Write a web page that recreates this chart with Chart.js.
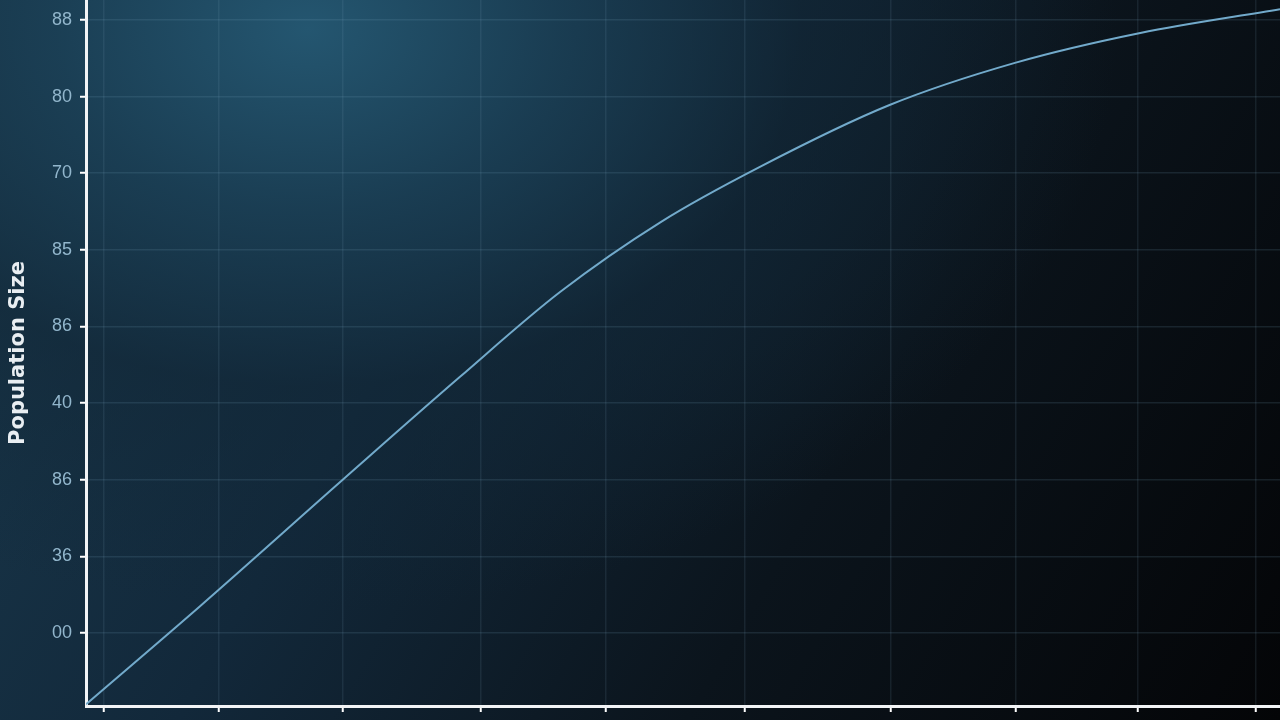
<!DOCTYPE html>
<html>
<head>
<meta charset="utf-8">
<script src="https://cdn.jsdelivr.net/npm/chart.js@4/dist/chart.umd.min.js"></script>
<style>
  html, body { margin: 0; padding: 0; width: 1280px; height: 720px; overflow: hidden; background: #05070a; }
  #wrap { position: relative; width: 1280px; height: 720px;
    background:
      radial-gradient(ellipse 900px 650px at 24% 4%, rgba(36,86,112,1) 0%, rgba(27,64,86,0.85) 28%, rgba(18,40,56,0.6) 55%, rgba(8,14,20,0) 90%),
      linear-gradient(120deg, #1a3a4e 0%, #12283a 35%, #0b141c 65%, #040507 100%);
  }
  canvas { display: block; }
</style>
</head>
<body>
<div id="wrap"><canvas id="c" width="1280" height="720"></canvas></div>
<script>
// ---- data ----
const xValues = [0, 9.55, 21.5, 31.3, 39.7, 48.1, 56.4, 67.3, 77.8, 88.3, 100];
const yValues = [0.7, 13.5, 30.0, 43.4, 54.5, 63.6, 70.8, 78.9, 84.4, 88.3, 91.4];
const xTickValues = [1.5, 11.1, 21.5, 33.1, 43.5, 55.2, 67.4, 77.9, 88.1, 98.0];
const yTickValues = [10, 20, 30, 40, 50, 60, 70, 80, 90];
const yTickLabels = ["00", "36", "86", "40", "86", "85", "70", "80", "88"];
const yTitle = "Population Size";

const points = xValues.map((x, i) => ({ x: x, y: yValues[i] }));

new Chart(document.getElementById('c'), {
  type: 'line',
  data: {
    datasets: [{
      data: points,
      borderColor: '#72aacb',
      borderWidth: 2,
      pointRadius: 0,
      fill: false,
      cubicInterpolationMode: 'monotone'
    }]
  },
  options: {
    responsive: false,
    animation: false,
    devicePixelRatio: 1,
    layout: { padding: { top: 0, right: 0, bottom: 8, left: 0 } },
    plugins: { legend: { display: false }, tooltip: { enabled: false } },
    scales: {
      x: {
        type: 'linear',
        min: 0, max: 100,
        afterBuildTicks: (s) => { s.ticks = xTickValues.map(v => ({ value: v })); },
        afterFit: (s) => { s.paddingLeft = 0; s.paddingRight = 0; },
        ticks: { display: false },
        grid: { color: 'rgba(120,160,185,0.13)', lineWidth: 1.5, tickColor: '#ffffff', tickLength: 6, tickWidth: 2 },
        border: { color: '#f2f4f6', width: 3 }
      },
      y: {
        type: 'linear',
        min: 0.47, max: 92.61,
        afterBuildTicks: (s) => { s.ticks = yTickValues.map(v => ({ value: v })); },
        afterFit: (s) => { s.width = 86; s.paddingTop = 0; s.paddingBottom = 0; },
        ticks: {
          color: '#92b6cc',
          font: { family: 'Liberation Sans', size: 18 },
          padding: 8,
          callback: (v) => { const i = yTickValues.indexOf(v); return i >= 0 ? yTickLabels[i] : ''; }
        },
        grid: { color: 'rgba(120,160,185,0.16)', lineWidth: 1.5, tickColor: '#ffffff', tickLength: 6, tickWidth: 2 },
        border: { color: '#f2f4f6', width: 3 },
        title: {
          display: true,
          text: yTitle,
          color: '#e9eef2',
          font: { family: 'DejaVu Sans', size: 21, weight: 'bold' },
          padding: { top: 6, bottom: 0 }
        }
      }
    }
  }
});
</script>
</body>
</html>
